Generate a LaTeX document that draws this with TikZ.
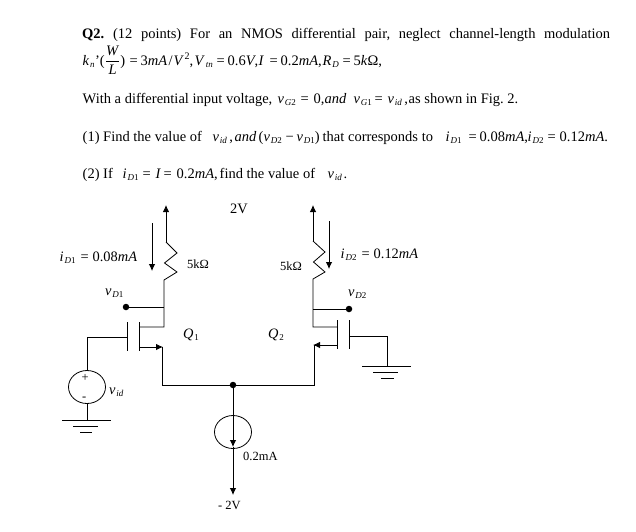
\documentclass[tikz,border=0pt]{standalone}
\usepackage{amsmath}
\usepackage{fontspec}
\setmainfont{Liberation Serif}
\usetikzlibrary{arrows.meta,shapes.geometric}
\frenchspacing
\newcommand{\sbs}[2]{\textit{#1}\kern0.8pt\raisebox{-2.6pt}{\fontsize{9}{9}\selectfont #2}}
% place a text piece at a given absolute x on a line that starts at x=82
\newcommand{\atx}[2]{\rlap{\kern\dimexpr#1pt-82pt\relax #2}}
% the same, for labels: offset from the start of the node
\newcommand{\off}[2]{\rlap{\kern#1pt #2}}
\tikzset{
  wire/.style={line width=0.8pt},
  arr/.style={line width=0.8pt,-{Latex[length=7pt,width=6.5pt]}},
  body/.style={anchor=base west,inner sep=0pt,font=\fontsize{14.5}{16}\selectfont},
  lab/.style={anchor=base west,inner sep=0pt,font=\fontsize{14.4}{16}\selectfont},
  small/.style={anchor=base west,inner sep=0pt,font=\fontsize{12.5}{14}\selectfont},
  jdot/.style={circle,fill=black,inner sep=0pt,minimum size=6.5pt},
  src/.style={draw,ellipse,line width=0.8pt,minimum width=37pt,minimum height=33pt,inner sep=0pt}
}
\begin{document}
\begin{tikzpicture}[x=1pt,y=-1pt]
\useasboundingbox (0,0) rectangle (636,531);
% text
\node[body] (t1) at (82,38) {\makebox[528pt][s]{\textbf{Q2.} (12 points) For an NMOS differential pair, neglect channel-length modulation}};
\node[body] (t2) at (82,65) {\atx{82}{\sbs{k}{\textit{n}}\kern0.5pt'($\dfrac{\hbox{\textit{W}}}{\hbox{\textit{L}}}$)}\atx{129}{=}\atx{140}{3\textit{mA}}\atx{168}{/}\atx{173}{\textit{V}}\atx{184}{\raisebox{5.5pt}{\fontsize{10}{10}\selectfont 2}}\atx{189}{,}\atx{194}{\sbs{V}{\textit{tn}}}\atx{216}{=}\atx{227}{0.6\textit{V},}\atx{258}{\textit{I}}\atx{269}{=}\atx{280}{0.2\textit{mA},}\atx{322}{\sbs{R}{\textit{D}}}\atx{342}{=}\atx{353}{5\textit{k}Ω,}};
\node[body] (t3) at (82,103) {\atx{82}{With a differential input voltage,}\atx{277}{\sbs{v}{\textit{G}2}}\atx{300}{=}\atx{313}{0,}\atx{324}{\textit{and}}\atx{353}{\sbs{v}{\textit{G}1}}\atx{374}{=}\atx{387}{\sbs{v}{\textit{id}}\,,}\atx{408}{as shown in Fig. 2.}};
\node[body] (t4) at (82,141) {\atx{82}{(1) Find the value of}\atx{212}{\sbs{v}{\textit{id}}\,,}\atx{234}{\textit{and}}\atx{258}{(\sbs{v}{\textit{D}2}}\atx{285}{−}\atx{296}{\sbs{v}{\textit{D}1})}\atx{322}{that corresponds to}\atx{445}{\sbs{i}{\textit{D}1}}\atx{468}{=}\atx{479}{0.08\textit{mA},}\atx{527}{\sbs{i}{\textit{D}2}}\atx{547}{=}\atx{559}{0.12\textit{mA}.}};
\node[body] (t5) at (82,178) {\atx{82}{(2) If}\atx{122}{\sbs{i}{\textit{D}1}}\atx{142}{=}\atx{155}{\textit{I}}\atx{163}{=}\atx{176}{0.2\textit{mA},}\atx{219}{find the value of}\atx{327}{\sbs{v}{\textit{id}}}\atx{343}{.}};
% coordinates
\coordinate (topL) at (166,205);
\coordinate (rLa) at (166,242);
\coordinate (rLb) at (164,280);
\coordinate (dL) at (164,327);
\coordinate (chLd) at (139,327);
\coordinate (chLs) at (139,347);
\coordinate (chLa) at (139,322);
\coordinate (chLb) at (139,351);
\coordinate (gLa) at (127,322);
\coordinate (gLb) at (127,351);
\coordinate (gL) at (127,337);
\coordinate (gLc) at (87,337);
\coordinate (sLt) at (163,347);
\coordinate (sLc) at (162,385);
\coordinate (tapL) at (164,307);
\coordinate (topR) at (313,205);
\coordinate (rRa) at (313,241);
\coordinate (rRb) at (313,279);
\coordinate (dR) at (313,327);
\coordinate (chRd) at (337,327);
\coordinate (chRs) at (337,345);
\coordinate (chRa) at (337,320);
\coordinate (chRb) at (337,349);
\coordinate (gRa) at (349,320);
\coordinate (gRb) at (349,349);
\coordinate (gR) at (349,336);
\coordinate (gRc) at (387,336);
\coordinate (sRt) at (313,345);
\coordinate (sRc) at (314,385);
\coordinate (tapR) at (313,309);
\coordinate (iLa) at (152,223);
\coordinate (iLb) at (152,271);
\coordinate (iRa) at (329,221);
\coordinate (iRb) at (329,269);
\coordinate (bot) at (233,495);
% dots and sources
\node[jdot] (vdl) at (126,307) {};
\node[jdot] (vdr) at (349,309) {};
\node[jdot] (tail) at (233,385) {};
\node[src] (vs) at (87,387) {};
\node[src] (cs) at (233,432) {};
% left branch
\draw[arr] (rLa) -- (topL);
\draw[wire] (rLa) -- (177,253) -- (164.5,263) -- (177,272) -- (rLb) -- (dL) -- (chLd);
\draw[wire] (vdl) -- (tapL);
\draw[wire] (chLa) -- (chLb);
\draw[wire] (gLa) -- (gLb);
\draw[wire] (gL) -- (gLc) -- (vs.north);
\draw[arr] (chLs) -- (sLt);
\draw[wire] (sLt -| sLc) -- (sLc) -- (tail);
\draw[arr] (iLa) -- (iLb);
% right branch
\draw[arr] (rRa) -- (topR);
\draw[wire] (rRa) -- (325,252) -- (313.5,262) -- (325,272) -- (rRb) -- (dR) -- (chRd);
\draw[wire] (vdr) -- (tapR);
\draw[wire] (chRa) -- (chRb);
\draw[wire] (gRa) -- (gRb);
\draw[wire] (gR) -- (gRc) -- (387,366);
\draw[arr] (chRs) -- (sRt);
\draw[wire] (sRt -| sRc) -- (sRc) -- (tail);
\draw[arr] (iRa) -- (iRb);
% tail
\draw[arr] (tail) -- (233,447);
\draw[arr] (233,447) -- (bot);
% grounds
\draw[wire] (vs.south) -- (87,420);
\draw[wire] (62,420) -- (111,420);
\draw[wire] (73,426) -- (98,426);
\draw[wire] (80,432) -- (92,432);
\draw[wire] (362,366) -- (411,366);
\draw[wire] (373,372) -- (398,372);
\draw[wire] (381,378) -- (394,378);
% labels
\node[lab] (l2v) at (230,213) {2V};
\node[lab] (liL) at (59,261) {\off{0}{\sbs{i}{\textit{D}1}}\off{21}{=}\off{33}{0.08\textit{mA}}};
\node[lab] (liR) at (340,258) {\off{0}{\sbs{i}{\textit{D}2}}\off{21}{=}\off{33}{0.12\textit{mA}}};
\node[small] (lrL) at (187,268) {5kΩ};
\node[small] (lrR) at (280,270) {5kΩ};
\node[lab] (lvL) at (105,295) {\sbs{v}{\textit{D}1}};
\node[lab] (lvR) at (348,296) {\sbs{v}{\textit{D}2}};
\node[lab] (lq1) at (183,338) {\sbs{Q}{1}};
\node[lab] (lq2) at (268,338) {\sbs{Q}{2}};
\node[lab] (lvid) at (109,394) {\sbs{v}{\textit{id}}};
\node[small] (lp) at (81.5,381) {+};
\node[small] (lm) at (82,400) {-};
\node[small] (lI) at (243,460) {0.2mA};
\node[small] (lneg) at (218,509) {- 2V};
\end{tikzpicture}
\end{document}
